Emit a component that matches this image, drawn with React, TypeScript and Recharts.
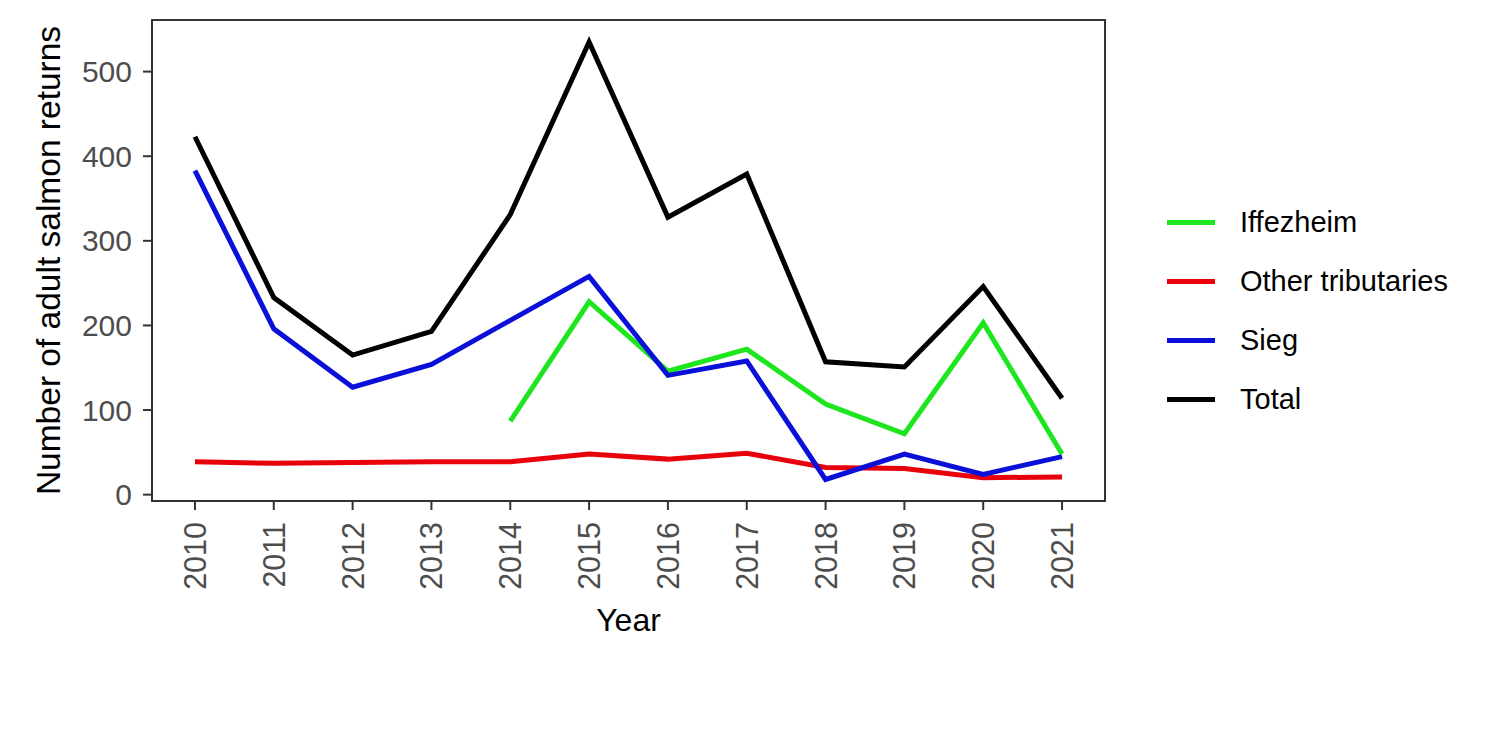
import React from 'react';
import { LineChart, Line, XAxis, YAxis, ReferenceArea } from 'recharts';

const years = [2010, 2011, 2012, 2013, 2014, 2015, 2016, 2017, 2018, 2019, 2020, 2021];
const iffezheim = [null, null, null, null, 87, 228, 146, 172, 107, 72, 203, 48];
const otherTributaries = [39, 37, 38, 39, 39, 48, 42, 49, 32, 31, 20, 21];
const sieg = [383, 196, 127, 154, 206, 258, 141, 158, 18, 48, 24, 45];
const total = [423, 233, 165, 193, 331, 535, 328, 379, 157, 151, 246, 114];
const yTicks = [0, 100, 200, 300, 400, 500];

const seriesList = [
  { key: 'iffezheim', name: 'Iffezheim', color: '#1ee61e' },
  { key: 'other', name: 'Other tributaries', color: '#e8000b' },
  { key: 'sieg', name: 'Sieg', color: '#0a10d8' },
  { key: 'total', name: 'Total', color: '#000000' },
];

const data = years.map((year, i) => ({
  year,
  iffezheim: iffezheim[i],
  other: otherTributaries[i],
  sieg: sieg[i],
  total: total[i],
}));

const FONT = '"Liberation Sans", Arial, sans-serif';
const X_MIN = 2009.455;
const X_MAX = 2021.545;
const Y_MIN = -7.5;
const Y_MAX = 561;

const XTick = ({ x, y, payload }: any) => (
  <g transform={`translate(${x},${y})`}>
    <text
      transform="rotate(-90)"
      textAnchor="end"
      dy="0.36em"
      fill="#4d4d4d"
      fontSize={30.5}
      fontFamily={FONT}
    >
      {payload.value}
    </text>
  </g>
);

// legend drawn as a plain block to the right of the plot, like ggplot's guide
const LegendBox = () => (
  <div style={{ position: 'absolute', left: 1167, top: 192.5, fontFamily: FONT }}>
    {seriesList.map((s) => (
      <div key={s.key} style={{ display: 'flex', alignItems: 'center', height: 59 }}>
        <div style={{ width: 48, height: 5, background: s.color, marginRight: 25 }} />
        <span style={{ fontSize: 29, color: '#000', lineHeight: '34px' }}>{s.name}</span>
      </div>
    ))}
  </div>
);

export default function App() {
  return (
    <div style={{ position: 'absolute', left: 0, top: 0, width: 1493, height: 729, background: '#fff' }}>
      <LineChart
        width={1493}
        height={729}
        data={data}
        margin={{ top: 20, right: 388, bottom: 0, left: 0 }}
      >
        <XAxis
          dataKey="year"
          type="number"
          domain={[X_MIN, X_MAX]}
          ticks={years}
          allowDataOverflow
          tick={<XTick />}
          tickSize={9}
          tickMargin={12}
          height={228}
          axisLine={false}
          tickLine={{ stroke: '#333', strokeWidth: 2 }}
          label={{
            value: 'Year',
            position: 'insideTop',
            offset: 107,
            style: { fontSize: 32, fill: '#000', fontFamily: FONT },
          }}
        />
        <YAxis
          type="number"
          domain={[Y_MIN, Y_MAX]}
          ticks={yTicks}
          allowDataOverflow
          width={152}
          tickSize={9}
          tickMargin={11}
          axisLine={false}
          tickLine={{ stroke: '#333', strokeWidth: 2 }}
          tick={{ fontSize: 30, fill: '#4d4d4d', fontFamily: FONT }}
          label={{
            value: 'Number of adult salmon returns',
            angle: -90,
            position: 'insideLeft',
            offset: 48,
            style: { textAnchor: 'middle', fontSize: 33.5, fill: '#000', fontFamily: FONT },
          }}
        />
        <ReferenceArea
          x1={X_MIN}
          x2={X_MAX}
          y1={Y_MIN}
          y2={Y_MAX}
          fill="none"
          stroke="#333"
          strokeWidth={2}
          ifOverflow="visible"
        />
        {seriesList.map((s) => (
          <Line
            key={s.key}
            dataKey={s.key}
            name={s.name}
            stroke={s.color}
            strokeWidth={5}
            dot={false}
            activeDot={false}
            type="linear"
            connectNulls={false}
            isAnimationActive={false}
          />
        ))}
      </LineChart>
      <LegendBox />
    </div>
  );
}
